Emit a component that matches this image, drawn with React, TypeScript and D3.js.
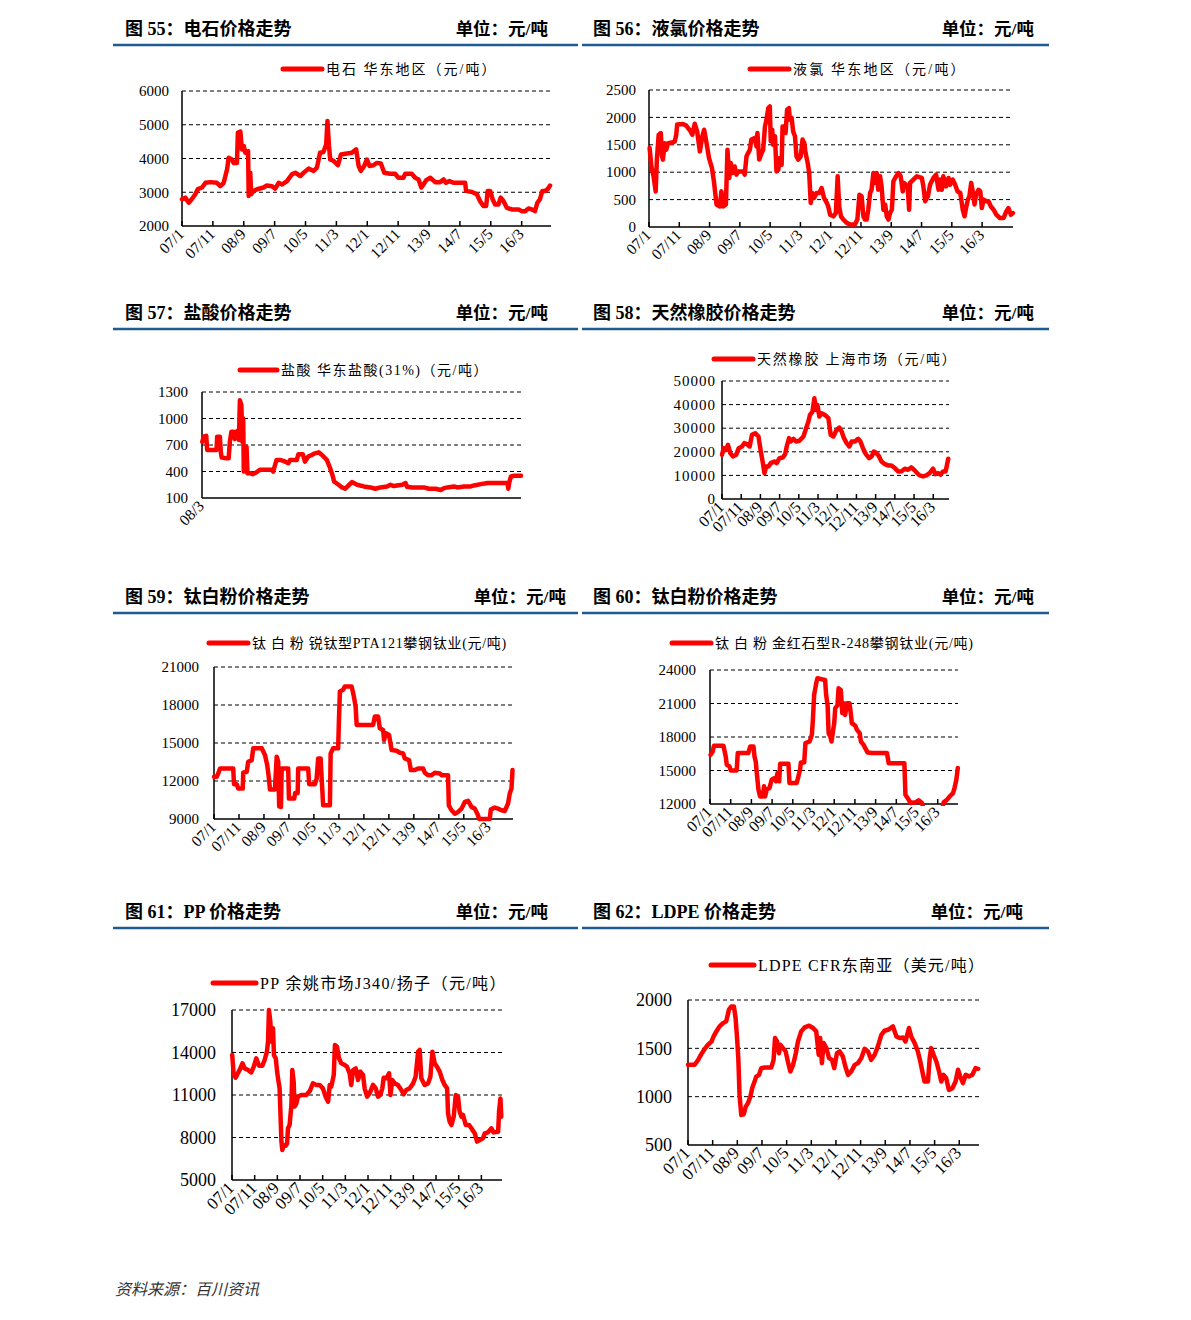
import React from 'react';
import * as d3 from 'd3';

type Pt = [number, number];

// x values are months counted from 2007/1
const monthTicks = [0, 10, 20, 30, 40, 50, 60, 70, 80, 90, 100, 110];
const monthLabels = ['07/1', '07/11', '08/9', '09/7', '10/5', '11/3', '12/1', '12/11', '13/9', '14/7', '15/5', '16/3'];

const carbideTicks = [2000, 3000, 4000, 5000, 6000];
const chlorineTicks = [0, 500, 1000, 1500, 2000, 2500];
const hclTicks = [100, 400, 700, 1000, 1300];
const rubberTicks = [0, 10000, 20000, 30000, 40000, 50000];
const anataseTicks = [9000, 12000, 15000, 18000, 21000];
const rutileTicks = [12000, 15000, 18000, 21000, 24000];
const ppTicks = [5000, 8000, 11000, 14000, 17000];
const ldpeTicks = [500, 1000, 1500, 2000];

const carbideData: Pt[] = [[0,2790],[1.1,2840],[2.2,2690],[3.2,2800],[4.3,2940],[5.1,3090],[6.5,3140],[7.6,3280],[9.2,3300],[11.3,3280],[12.4,3180],[13.5,3280],[14.6,3680],[15.1,4020],[16.2,3970],[16.7,3870],[17.8,3870],[18.1,4770],[18.9,4800],[19.4,4270],[20.0,4370],[20.5,4170],[21.4,4220],[21.6,2890],[22.1,3580],[22.4,2940],[23.2,3040],[24.3,3090],[26.4,3140],[27.5,3200],[29.1,3180],[30.2,3110],[31.3,3280],[32.4,3230],[34.0,3330],[35.6,3530],[36.7,3580],[38.3,3480],[39.4,3580],[41.0,3700],[42.6,3630],[43.7,3730],[44.7,4170],[45.8,4190],[46.7,4420],[47.1,5110],[47.6,4370],[48.0,3970],[49.1,3930],[50.5,3800],[51.5,4120],[53.4,4150],[55.0,4170],[56.4,4270],[57.2,3780],[57.9,3630],[59.0,3780],[59.9,3970],[60.7,3780],[62.0,3800],[63.1,3870],[64.4,3850],[65.5,3580],[67.4,3550],[69.0,3550],[70.1,3430],[71.7,3430],[72.3,3550],[74.4,3550],[75.5,3430],[76.6,3380],[77.5,3140],[78.2,3230],[79.1,3360],[80.4,3430],[82.0,3300],[83.6,3300],[84.7,3380],[85.5,3280],[86.6,3330],[87.9,3280],[91.7,3280],[92.0,3040],[93.9,3010],[95.5,2940],[96.5,2740],[97.6,2590],[98.5,2590],[99.0,3040],[99.8,3040],[100.6,2790],[101.4,2640],[102.5,2640],[103.2,2840],[104.1,2740],[105.2,2540],[106.8,2490],[109.0,2490],[110.0,2440],[111.1,2440],[112.2,2520],[113.3,2490],[114.3,2440],[115.1,2690],[115.9,2790],[116.7,3040],[117.6,3040],[118.4,3090],[119.2,3200]];

const chlorineData: Pt[] = [[0.2,1440],[0.8,1100],[1.5,925],[2.2,650],[2.6,1230],[3.2,1685],[3.9,1715],[4.3,1290],[4.6,1230],[5.2,1530],[5.7,1410],[6.3,1530],[7.9,1545],[8.5,1560],[9.0,1685],[9.3,1870],[11.2,1880],[12.3,1850],[13.5,1765],[14.3,1685],[15.1,1885],[15.9,1745],[16.8,1380],[17.6,1655],[18.2,1775],[19.0,1530],[19.8,1260],[20.8,1075],[21.5,805],[22.3,410],[23.4,375],[23.9,650],[24.5,375],[25.4,410],[25.9,1410],[26.5,895],[27.0,1170],[27.6,985],[28.3,1105],[28.9,955],[29.4,1015],[31.1,1015],[31.6,955],[32.2,1290],[33.3,1410],[33.8,1595],[34.9,1625],[35.5,1470],[35.8,1715],[36.4,1230],[37.2,1350],[37.7,1410],[38.3,1835],[38.8,1960],[39.4,2170],[39.9,2200],[40.2,1565],[40.7,1775],[41.0,1500],[41.6,1655],[42.1,1015],[42.7,1045],[43.2,1260],[43.8,1135],[44.1,1835],[44.5,1835],[45.1,1715],[45.6,2140],[46.2,2170],[46.5,1960],[47.1,1990],[47.6,1745],[48.2,1655],[48.7,1290],[49.3,1230],[50.1,1290],[50.7,1595],[51.3,1530],[51.7,1350],[52.4,1170],[52.9,985],[53.4,440],[53.9,620],[54.5,530],[55.3,620],[56.2,620],[57.0,710],[57.8,530],[58.7,440],[59.2,375],[59.8,225],[60.9,195],[61.7,255],[62.3,925],[62.8,375],[63.4,195],[64.2,135],[65.3,75],[66.4,45],[68.0,45],[68.8,135],[69.5,590],[70.2,560],[70.8,195],[71.3,135],[71.9,135],[72.4,315],[73.0,620],[73.5,680],[74.1,985],[74.6,805],[75.2,985],[75.7,680],[76.3,925],[76.8,740],[77.4,315],[78.0,410],[78.5,195],[79.1,135],[79.6,255],[80.2,315],[80.7,835],[81.6,925],[82.4,985],[83.1,925],[83.8,650],[84.2,805],[84.9,770],[85.4,740],[85.9,315],[86.2,805],[87.3,865],[88.4,925],[90.1,895],[90.6,740],[91.2,470],[92.1,560],[92.8,770],[93.9,895],[94.8,955],[95.6,680],[96.1,865],[96.7,680],[97.2,925],[98.1,740],[98.9,895],[99.4,770],[100.3,865],[101.1,770],[101.9,650],[102.8,620],[103.6,315],[104.2,195],[104.7,345],[105.3,500],[105.8,560],[106.4,805],[106.9,650],[107.5,410],[108.0,590],[108.8,680],[109.4,650],[109.9,345],[110.5,500],[111.4,470],[112.1,470],[112.9,375],[113.8,315],[114.7,225],[115.8,165],[117.1,165],[118.0,285],[118.7,345],[119.5,225],[120.2,255]];

const hclData: Pt[] = [[14.1,737],[14.6,794],[15.4,805],[15.7,644],[16.5,644],[18.8,644],[19.0,794],[19.9,794],[20.2,625],[20.5,557],[22.1,550],[22.8,550],[23.2,737],[23.7,850],[24.5,850],[24.8,767],[25.6,857],[26.2,756],[26.5,1206],[27.0,1150],[27.3,737],[27.6,1000],[27.8,400],[28.3,587],[28.7,681],[29.0,381],[29.8,381],[30.7,370],[32.0,392],[33.1,419],[35.3,419],[37.0,419],[37.5,400],[38.6,531],[39.7,531],[40.9,520],[42.5,494],[43.1,531],[45.3,531],[45.8,595],[47.3,595],[48.0,512],[49.1,569],[50.2,587],[51.3,606],[52.5,617],[53.6,587],[55.2,531],[56.3,437],[57.2,344],[57.6,287],[59.1,250],[60.2,220],[61.3,205],[62.4,242],[63.5,280],[65.2,250],[67.4,231],[69.6,220],[71.2,205],[72.9,220],[75.1,231],[76.2,250],[77.3,235],[78.4,242],[80.1,250],[81.2,269],[81.7,227],[83.4,220],[87.3,220],[88.9,205],[91.1,205],[92.8,190],[93.9,212],[95.0,220],[97.2,231],[98.3,220],[100.5,231],[102.7,231],[103.8,242],[106.0,257],[108.3,269],[110.5,269],[114.9,269],[115.1,205],[115.5,287],[116.0,344],[117.1,351],[119.3,351]];

const rubberData: Pt[] = [[0,18730],[0.9,21550],[2.2,20850],[3.1,22960],[4.3,19440],[5.7,18030],[7.4,18730],[8.7,21550],[10.4,22250],[11.6,23660],[13.0,23240],[14.4,22250],[15.6,27180],[17.3,27890],[19.0,26480],[20.2,20140],[21.3,15210],[22.1,10990],[23.0,13800],[24.2,13800],[25.4,15210],[27.2,15920],[28.5,15210],[29.9,17320],[31.7,17610],[32.9,19010],[33.7,22250],[34.9,25780],[35.8,24370],[37.2,25490],[38.6,24370],[40.3,24650],[42.4,26480],[43.8,30000],[45.0,32820],[45.8,35630],[47.1,37040],[48.1,42680],[49.0,37750],[49.7,39860],[50.7,34930],[51.9,36340],[53.6,35630],[55.4,34230],[56.6,27180],[58.0,26480],[59.7,29300],[61.1,30280],[62.3,28590],[63.5,25780],[64.9,23660],[66.3,22250],[67.5,24370],[69.2,24370],[70.9,25490],[72.1,24370],[73.5,21270],[74.9,19010],[76.6,17320],[77.9,18030],[79.1,20140],[80.4,19440],[81.8,18030],[83.0,15920],[84.8,14790],[86.5,14230],[88.2,14230],[90.0,13100],[91.7,11690],[93.4,11690],[95.2,12820],[96.9,12390],[98.6,13380],[100.0,12390],[101.6,10990],[102.9,10000],[104.7,9580],[106.4,10000],[108.1,10990],[109.9,12820],[111.1,10560],[112.5,10990],[113.8,10280],[115.1,11690],[116.4,11690],[117.1,14230],[117.8,17040]];

const anataseData: Pt[] = [[0,12330],[1.1,12330],[1.7,12600],[2.4,12990],[7.7,12990],[8.0,11750],[9.1,11750],[9.7,11400],[11.5,11400],[11.7,12650],[13.1,12730],[13.7,13520],[15.1,13650],[15.7,14580],[19.1,14580],[20.4,14050],[21.3,13260],[22.0,12200],[22.4,11330],[24.4,11330],[25.1,13920],[25.7,13520],[26.1,10000],[26.8,9950],[27.1,12990],[29.7,12990],[30.0,10610],[32.1,10610],[32.5,11060],[33.5,11060],[33.7,12990],[37.7,12990],[38.1,11750],[40.4,11750],[41.1,12200],[41.7,13780],[42.7,13780],[43.1,12200],[43.7,10080],[46.4,10080],[46.7,14180],[47.7,14580],[49.7,14580],[50.0,16690],[50.4,19070],[51.7,19200],[52.4,19470],[55.1,19470],[56.0,18670],[56.7,17880],[57.1,16430],[63.7,16430],[64.4,17090],[65.7,17090],[66.4,16160],[67.7,16030],[68.1,15240],[68.8,15770],[70.1,15630],[71.1,14440],[73.1,14390],[74.4,14230],[75.7,14180],[76.4,13780],[78.1,13650],[78.8,12860],[80.4,12860],[81.7,12990],[83.7,12990],[84.4,12650],[85.7,12460],[87.1,12460],[88.4,12650],[90.4,12600],[91.1,12460],[93.7,12460],[94.0,10080],[95.1,9690],[96.4,9420],[97.7,9560],[99.1,9820],[100.4,10350],[101.7,10430],[103.1,9950],[104.4,9820],[105.7,9290],[106.1,9000],[110.4,9000],[110.8,9740],[112.4,9900],[113.7,9820],[115.1,9690],[116.4,9630],[117.7,10220],[118.4,11010],[119.1,11400],[119.5,12860]];

const rutileData: Pt[] = [[0.3,16410],[1.3,16700],[1.9,17210],[6.5,17210],[7.6,16260],[8.1,15510],[9.4,15370],[10.0,15010],[12.9,15010],[13.4,16560],[18.5,16560],[19.4,17150],[21.0,17150],[21.5,16260],[22.1,15810],[22.6,14770],[23.4,13280],[24.2,12680],[25.5,12680],[26.1,13580],[26.6,12680],[27.4,13280],[28.7,13430],[29.8,14170],[31.1,14320],[31.9,14030],[32.6,14770],[33.4,14030],[33.9,15600],[37.9,15600],[38.4,13880],[41.9,13880],[42.7,14470],[43.5,15070],[43.9,15720],[45.5,15720],[46.1,17450],[48.1,17600],[49.2,18190],[49.7,19530],[50.3,21770],[51.3,22810],[51.9,23260],[54.0,23170],[55.6,23110],[56.1,21770],[56.8,20870],[57.3,18340],[58.1,18050],[58.7,17600],[59.4,18490],[60.0,19240],[60.5,20580],[61.6,20870],[62.1,22360],[63.2,22210],[63.9,20130],[64.5,21020],[65.3,19980],[66.1,21020],[67.4,21020],[68.1,19980],[68.5,19240],[70.2,19000],[71.0,18640],[72.3,18340],[72.9,17600],[74.2,17300],[75.0,17000],[76.1,16620],[78.2,16560],[85.5,16560],[86.3,15660],[93.9,15660],[94.4,12830],[96.0,12390],[96.8,12090],[99.2,12150],[100.8,12330],[102.4,12090],[103.2,11500],[108.1,11200],[112.1,11500],[112.9,12150],[114.5,12390],[116.1,12740],[117.4,12980],[118.1,13430],[119.0,14170],[119.7,15220]];

const ppData: Pt[] = [[0.1,13820],[0.7,12530],[1.6,12220],[2.6,12530],[3.7,12880],[4.6,13240],[5.6,12880],[7.1,12760],[8.5,12600],[9.6,13000],[10.7,13590],[11.9,13070],[13.4,13070],[14.4,13470],[15.4,14060],[15.9,14770],[16.3,17000],[16.9,16180],[17.4,14770],[18.1,15710],[18.5,13820],[19.3,13590],[19.9,12650],[20.3,12180],[21.0,11470],[21.5,9120],[21.8,7710],[22.2,7120],[22.8,7470],[23.7,7420],[24.3,7590],[24.7,8650],[25.4,8880],[26.2,10290],[26.6,12760],[27.2,11940],[27.6,10180],[28.4,10410],[29.1,10880],[30.6,11000],[32.8,11000],[34.3,11280],[35.7,11820],[37.2,11710],[38.7,11710],[40.1,11470],[41.3,10880],[42.4,10530],[43.1,11710],[43.8,11590],[44.9,12410],[45.4,14530],[46.3,14410],[47.2,13590],[48.2,13240],[49.7,13120],[50.7,13000],[51.9,12530],[52.6,11710],[53.4,12760],[54.6,12880],[55.6,12060],[56.6,12650],[57.8,12410],[58.5,11470],[59.6,10880],[60.7,11120],[62.2,11710],[63.4,11470],[64.4,10880],[65.4,11000],[66.3,11470],[66.9,12220],[68.1,12180],[69.3,12530],[69.9,11000],[70.7,12060],[71.8,11820],[73.2,11710],[74.7,11350],[75.7,11050],[76.9,11350],[78.4,11470],[79.9,11820],[81.0,12290],[82.1,14060],[82.8,14180],[83.5,12180],[85.0,11710],[86.5,11820],[87.5,12290],[88.4,14060],[89.4,13240],[90.4,13000],[91.6,12650],[92.8,12060],[93.8,11710],[94.9,11470],[95.3,9710],[96.0,9120],[96.8,8880],[97.8,9470],[98.7,11000],[99.7,10880],[100.4,9830],[101.2,9470],[101.9,9590],[103.1,8880],[104.6,8880],[105.6,8650],[107.1,8290],[108.1,7710],[109.3,7820],[110.7,7940],[111.5,8290],[112.9,8360],[114.4,8650],[115.4,8360],[117.4,8410],[117.8,9830],[118.4,10760],[118.8,9470]];

const ldpeData: Pt[] = [[0,1330],[2.7,1330],[4.1,1380],[5.4,1440],[6.8,1495],[8.1,1537],[9.5,1570],[10.4,1623],[11.5,1675],[12.8,1727],[14.2,1761],[15.5,1779],[16.6,1900],[17.6,1934],[18.6,1934],[19.3,1813],[19.9,1606],[20.4,1399],[20.9,1018],[21.6,811],[22.6,818],[23.4,897],[24.3,932],[25.3,1001],[26.1,1094],[27.0,1157],[27.7,1208],[28.8,1226],[29.7,1295],[31.1,1302],[33.8,1302],[34.7,1381],[35.3,1606],[36.1,1571],[36.9,1450],[37.4,1537],[38.5,1502],[39.6,1468],[40.5,1364],[41.5,1260],[42.6,1329],[43.6,1433],[44.6,1571],[45.9,1675],[47.3,1717],[49.1,1734],[50.7,1710],[52.0,1675],[53.0,1433],[53.6,1606],[54.3,1347],[55.0,1554],[56.1,1502],[57.2,1399],[58.4,1381],[59.3,1295],[60.4,1450],[61.5,1468],[62.8,1416],[63.8,1312],[64.9,1226],[66.2,1260],[67.6,1329],[68.9,1347],[70.3,1399],[71.6,1495],[73.0,1468],[74.3,1381],[75.7,1433],[77.0,1520],[78.4,1640],[79.7,1682],[81.1,1692],[83.1,1727],[84.5,1623],[85.8,1606],[87.2,1613],[88.2,1571],[89.6,1710],[90.5,1623],[91.9,1554],[93.2,1468],[94.2,1364],[95.3,1226],[95.9,1157],[97.3,1157],[98.0,1399],[98.6,1502],[99.6,1433],[100.7,1364],[101.8,1260],[102.7,1157],[103.6,1226],[104.7,1191],[105.8,1070],[107.2,1088],[108.5,1157],[109.5,1278],[110.4,1208],[111.5,1140],[112.6,1226],[113.9,1208],[115.3,1226],[116.6,1295],[117.7,1288]];

const figTitles = ['图 55：电石价格走势', '图 56：液氯价格走势', '图 57：盐酸价格走势', '图 58：天然橡胶价格走势', '图 59：钛白粉价格走势', '图 60：钛白粉价格走势', '图 61：PP 价格走势', '图 62：LDPE 价格走势'];
const unitText = '单位：元/吨';
const legendNames = ['电石 华东地区（元/吨）', '液氯 华东地区（元/吨）', '盐酸 华东盐酸(31%)（元/吨）', '天然橡胶 上海市场（元/吨）', '钛 白 粉 锐钛型PTA121攀钢钛业(元/吨)', '钛 白 粉 金红石型R-248攀钢钛业(元/吨)', 'PP 余姚市场J340/扬子（元/吨）', 'LDPE CFR东南亚（美元/吨）'];

const MIXED = '"Liberation Serif", "Noto Sans CJK SC", serif';
const RED = '#ff0000';
const BLUE = '#1f5a91';

interface ChartCfg {
  id: string;
  data: Pt[];
  xDomain: [number, number];
  yTicks: number[];
  left: number; right: number; top: number; bottom: number;
  legend: string; lx1: number; lx2: number; ly: number; legendSize: number; legendSpacing: number;
  yGap: number; yFont: number; yLetter?: number;
  xFont: number; showTicks: boolean;
  xTicks: number[]; xLabels: string[];
  clip?: boolean;
}

const headers = [
  { x: 125, ux: 548, y: 29, lx1: 113, lx2: 578 },
  { x: 593, ux: 1034, y: 29, lx1: 582, lx2: 1049 },
  { x: 125, ux: 548, y: 313, lx1: 113, lx2: 578 },
  { x: 593, ux: 1034, y: 313, lx1: 582, lx2: 1049 },
  { x: 125, ux: 566, y: 597, lx1: 113, lx2: 578 },
  { x: 593, ux: 1034, y: 597, lx1: 582, lx2: 1049 },
  { x: 125, ux: 548, y: 912, lx1: 113, lx2: 578 },
  { x: 593, ux: 1023, y: 912, lx1: 582, lx2: 1049 },
];

const charts: ChartCfg[] = [
  { id: 'c55', data: carbideData, xDomain: [0, 119.5], yTicks: carbideTicks, left: 182, right: 551, top: 91, bottom: 226,
    legend: legendNames[0], lx1: 283, lx2: 322, ly: 69, legendSize: 14, legendSpacing: 2, yGap: 13, yFont: 15, xFont: 15.5, showTicks: true, xTicks: monthTicks, xLabels: monthLabels },
  { id: 'c56', data: chlorineData, xDomain: [0, 120.2], yTicks: chlorineTicks, left: 649, right: 1013, top: 90, bottom: 227,
    legend: legendNames[1], lx1: 750, lx2: 789, ly: 69, legendSize: 14, legendSpacing: 2.2, yGap: 13, yFont: 15, xFont: 15.5, showTicks: true, xTicks: monthTicks, xLabels: monthLabels },
  { id: 'c57', data: hclData, xDomain: [14, 119.3], yTicks: hclTicks, left: 202, right: 521, top: 392, bottom: 498,
    legend: legendNames[2], lx1: 240, lx2: 277, ly: 370, legendSize: 14, legendSpacing: 1.5, yGap: 14, yFont: 15, xFont: 15.5, showTicks: false, xTicks: [14], xLabels: ['08/3'] },
  { id: 'c58', data: rubberData, xDomain: [0, 118.2], yTicks: rubberTicks, left: 722, right: 949, top: 381, bottom: 499,
    legend: legendNames[3], lx1: 714, lx2: 753, ly: 359, legendSize: 14, legendSpacing: 1.8, yGap: 6, yFont: 15, yLetter: 1, xFont: 16, showTicks: true, xTicks: monthTicks, xLabels: monthLabels },
  { id: 'c59', data: anataseData, xDomain: [0, 119.7], yTicks: anataseTicks, left: 214, right: 513, top: 667, bottom: 819,
    legend: legendNames[4], lx1: 209, lx2: 248, ly: 643, legendSize: 14, legendSpacing: 0.7, yGap: 15, yFont: 15, xFont: 15.5, showTicks: true, xTicks: monthTicks, xLabels: monthLabels },
  { id: 'c60', data: rutileData, xDomain: [0, 119.8], yTicks: rutileTicks, left: 710, right: 958, top: 670, bottom: 804,
    legend: legendNames[5], lx1: 672, lx2: 711, ly: 643, legendSize: 14, legendSpacing: 0.75, yGap: 14, yFont: 15, xFont: 16, showTicks: true, xTicks: monthTicks, xLabels: monthLabels, clip: true },
  { id: 'c61', data: ppData, xDomain: [0, 119.1], yTicks: ppTicks, left: 232, right: 502, top: 1010, bottom: 1180,
    legend: legendNames[6], lx1: 213, lx2: 256, ly: 983, legendSize: 16, legendSpacing: 1.4, yGap: 16, yFont: 18, xFont: 17, showTicks: true, xTicks: monthTicks, xLabels: monthLabels },
  { id: 'c62', data: ldpeData, xDomain: [0, 118], yTicks: ldpeTicks, left: 688, right: 979, top: 1000, bottom: 1145,
    legend: legendNames[7], lx1: 711, lx2: 754, ly: 965, legendSize: 16, legendSpacing: 1.2, yGap: 16, yFont: 18, xFont: 17, showTicks: true, xTicks: monthTicks, xLabels: monthLabels },
];

const LineChart: React.FC<{ c: ChartCfg }> = ({ c }) => {
  const x = d3.scaleLinear().domain(c.xDomain).range([c.left, c.right]);
  const y = d3.scaleLinear().domain([c.yTicks[0], c.yTicks[c.yTicks.length - 1]]).range([c.bottom, c.top]);
  const line = d3.line<Pt>().x(d => x(d[0])).y(d => y(d[1]));

  return (
    <g>
      {c.clip && (
        <defs>
          <clipPath id={c.id}>
            <rect x={c.left - 4} y={c.top - 6} width={c.right - c.left + 10} height={c.bottom - c.top + 8} />
          </clipPath>
        </defs>
      )}
      {/* legend */}
      <line x1={c.lx1} x2={c.lx2} y1={c.ly} y2={c.ly} stroke={RED} strokeWidth={5} strokeLinecap="round" />
      <text x={c.lx2 + 4} y={c.ly} dy="0.35em" fontSize={c.legendSize} letterSpacing={c.legendSpacing}
        fontFamily={MIXED} fill="#000">{c.legend}</text>

      {/* grid */}
      {c.yTicks.slice(1).map(v => (
        <line key={'g' + v} x1={c.left} x2={c.right} y1={y(v)} y2={y(v)} stroke="#000" strokeWidth={1} strokeDasharray="4,3" />
      ))}
      {c.yTicks.map(v => (
        <text key={'t' + v} x={c.left - c.yGap} y={y(v)} dy="0.35em" textAnchor="end" fontSize={c.yFont}
          letterSpacing={c.yLetter || 0} fontFamily='"Liberation Serif", serif' fill="#000">{v}</text>
      ))}

      {/* axes */}
      <line x1={c.left} x2={c.left} y1={c.top} y2={c.bottom} stroke="#000" strokeWidth={1.5} />
      <line x1={c.left} x2={c.right} y1={c.bottom} y2={c.bottom} stroke="#000" strokeWidth={1.5} />
      {c.showTicks && c.xTicks.map(t => (
        <line key={'k' + t} x1={x(t)} x2={x(t)} y1={c.bottom} y2={c.bottom - 5} stroke="#000" strokeWidth={1.5} />
      ))}
      {c.xTicks.map((t, i) => (
        <text key={'l' + t} transform={`translate(${x(t) + 3},${c.bottom + 9}) rotate(-45)`} textAnchor="end"
          fontSize={c.xFont} fontFamily='"Liberation Serif", serif' fill="#000">{c.xLabels[i]}</text>
      ))}

      {/* series */}
      <path d={line(c.data) || ''} fill="none" stroke={RED} strokeWidth={4.5} strokeLinejoin="round" strokeLinecap="round"
        clipPath={c.clip ? `url(#${c.id})` : undefined} />
    </g>
  );
};

const App: React.FC = () => {
  return (
    <svg width={1191} height={1320} viewBox="0 0 1191 1320"
      style={{ position: 'absolute', left: 0, top: 0, background: '#fff' }}>
      {headers.map((h, i) => (
        <g key={'h' + i}>
          <text x={h.x} y={h.y} dy="0.35em" fontSize={18} fontWeight="bold" fontFamily={MIXED} fill="#000">{figTitles[i]}</text>
          <text x={h.ux} y={h.y} dy="0.35em" textAnchor="end" fontSize={17.5} fontWeight="bold" fontFamily={MIXED} fill="#000">{unitText}</text>
          <line x1={h.lx1} x2={h.lx2} y1={h.y + 16} y2={h.y + 16} stroke={BLUE} strokeWidth={2.5} />
        </g>
      ))}
      {charts.map(c => <LineChart key={c.id} c={c} />)}
      <text x={115} y={1289} dy="0.35em" fontSize={16} fontStyle="italic" fontFamily={MIXED} fill="#333">资料来源：百川资讯</text>
    </svg>
  );
};

export default App;
